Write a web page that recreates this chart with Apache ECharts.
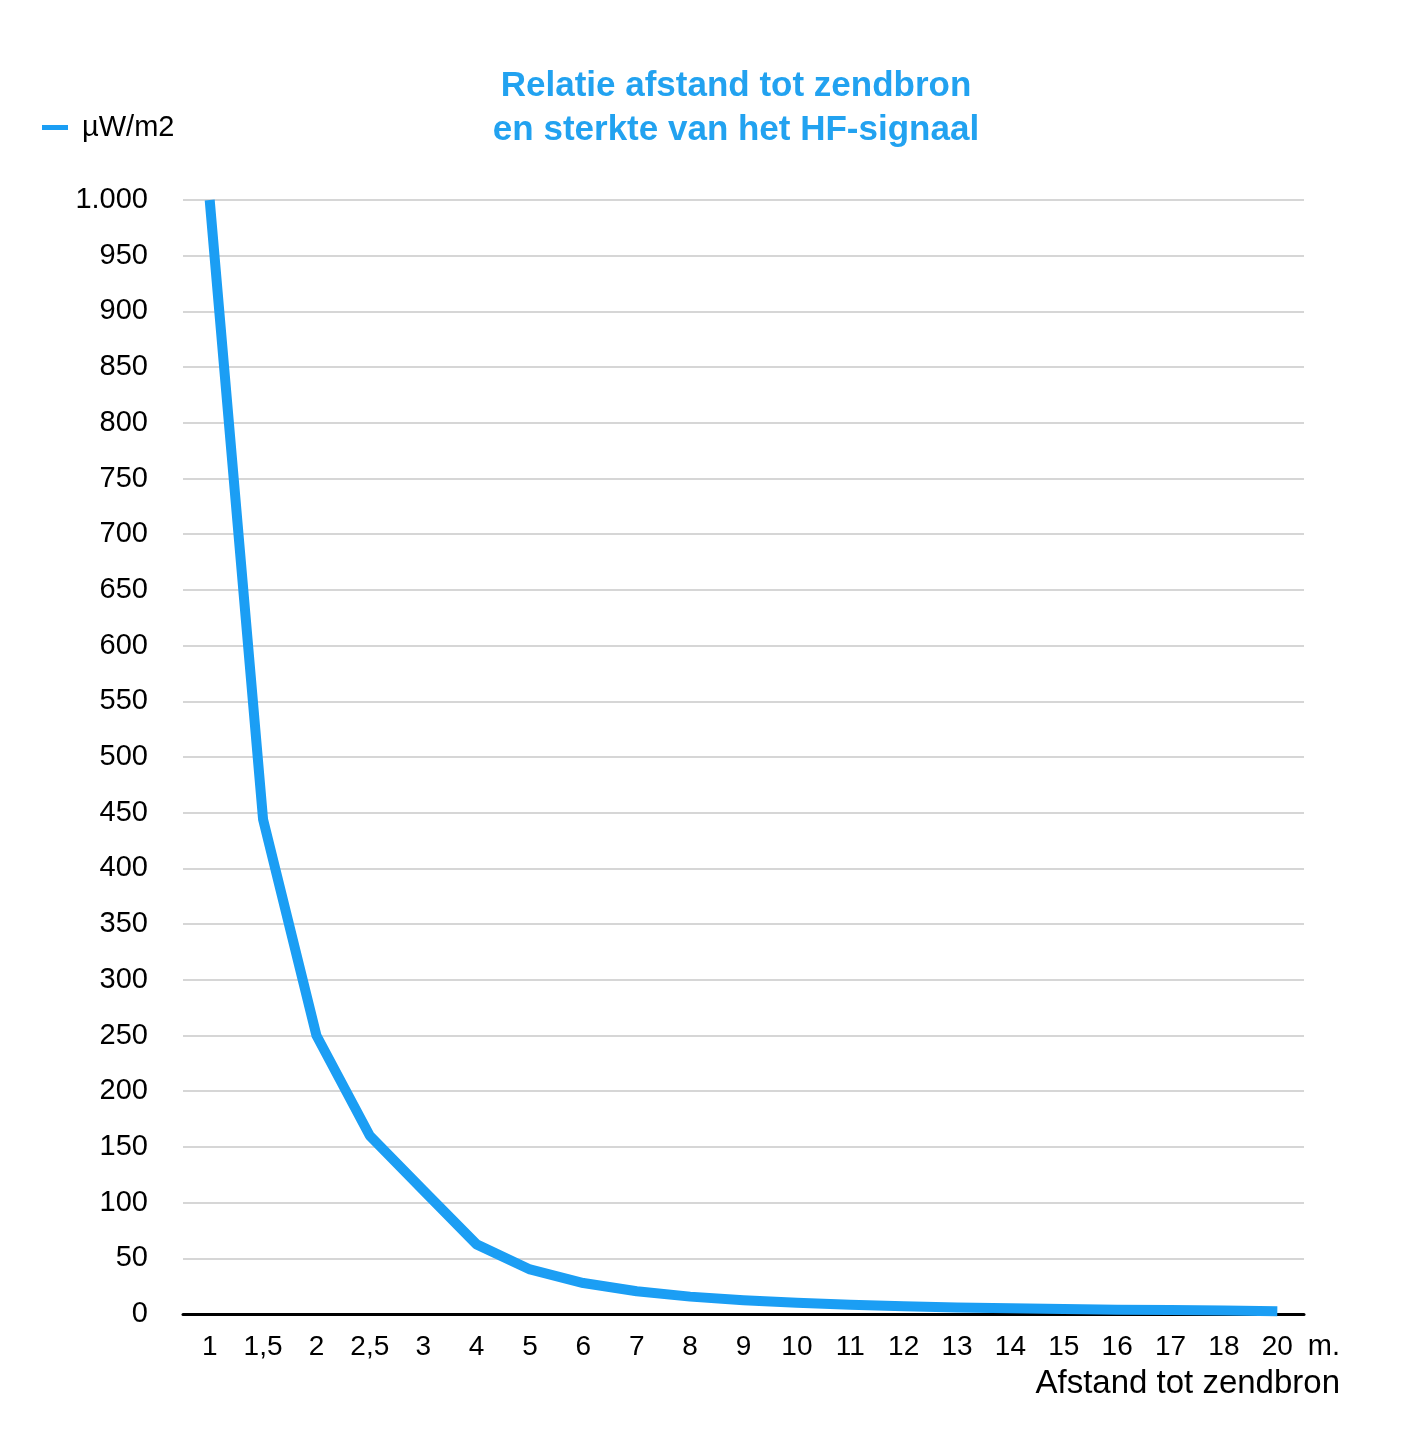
<!DOCTYPE html>
<html><head><meta charset="utf-8">
<script src="https://cdn.jsdelivr.net/npm/echarts@6/dist/echarts.min.js"></script>
<style>html,body{margin:0;padding:0;background:#fff}#c{width:1402px;height:1448px}</style>
</head><body><div id="c"></div>
<script>
const categories = ['1','1,5','2','2,5','3','4','5','6','7','8','9','10','11','12','13','14','15','16','17','18','20'];
const values = [1000, 444, 250, 160, 111, 62.5, 40, 27.8, 20.4, 15.6, 12.3, 10, 8.3, 6.9, 5.9, 5.1, 4.4, 3.9, 3.5, 3.1, 2.5];
const seriesName = 'µW/m2';
const titleText = 'Relatie afstand tot zendbron\nen sterkte van het HF-signaal';
const unitText = 'm.';
const axisTitle = 'Afstand tot zendbron';

const FONT = '"Liberation Sans", Arial, Helvetica, sans-serif';
const BLUE = '#1b9ef4';
const chart = echarts.init(document.getElementById('c'));
chart.setOption({
  animation: false,
  textStyle: {fontFamily: FONT},
  title: {
    text: titleText, left: 731, top: 59, textAlign: 'center',
    textStyle: {color: '#22a2f0', fontSize: 35, fontWeight: 'bold', lineHeight: 44, fontFamily: FONT}
  },
  legend: {
    left: 37, top: 108, itemWidth: 26, itemHeight: 5, itemGap: 10,
    icon: 'rect',
    textStyle: {fontSize: 29, color: '#000', fontFamily: FONT, padding: [0,0,0,9]},
    data: [seriesName]
  },
  grid: {left: 183, right: 98, top: 200, bottom: 134, containLabel: false},
  xAxis: {
    type: 'category', data: categories, boundaryGap: true,
    axisLine: {lineStyle: {color: '#000', width: 3}},
    axisTick: {show: false},
    axisLabel: {fontSize: 28, color: '#000', margin: 19, fontFamily: FONT, interval: 0}
  },
  yAxis: {
    type: 'value', min: 0, max: 1000, interval: 50,
    axisLine: {show: false}, axisTick: {show: false},
    splitLine: {lineStyle: {color: '#c8c8c8', width: 1.5}},
    axisLabel: {fontSize: 29, color: '#000', margin: 35, fontFamily: FONT, padding: [4,0,0,0],
      formatter: v => v >= 1000 ? (Math.floor(v/1000) + '.' + String(v%1000).padStart(3,'0')) : String(v)}
  },
  graphic: [
    {type: 'text', right: 62, top: 1332, style: {text: unitText, font: '29px ' + FONT, fill: '#000'}},
    {type: 'text', right: 62, top: 1367, style: {text: axisTitle, font: '33px ' + FONT, fill: '#000'}}
  ],
  series: [{
    name: seriesName, type: 'line', data: values, symbol: 'none', smooth: false,
    lineStyle: {color: BLUE, width: 10, cap: 'butt', join: 'round'},
    itemStyle: {color: BLUE}
  }]
});
</script></body></html>
